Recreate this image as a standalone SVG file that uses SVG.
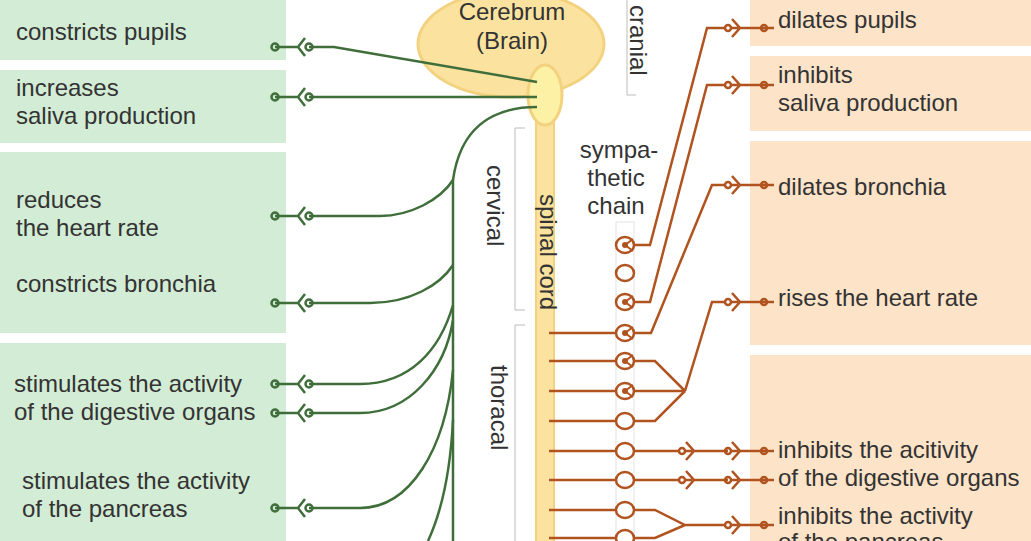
<svg xmlns="http://www.w3.org/2000/svg" width="1031" height="541" viewBox="0 0 1031 541">
<defs>
<style>
.t{font-family:"Liberation Sans",Arial,sans-serif;font-size:24px;fill:#333}
.g{fill:none;stroke:#3f6e3a;stroke-width:2.5}
.o{fill:none;stroke:#b0531f;stroke-width:2.5}
.br{fill:none;stroke:#bbb;stroke-width:1}
</style>
<g id="synL"><circle cx="-24" cy="0" r="3.5" class="g" stroke-width="2"/><path d="M-24 0H-2M6 -9L-1 0L6 9" class="g"/><circle cx="10" cy="0" r="3.5" class="g" stroke-width="2"/></g>
<g id="synA"><circle cx="0" cy="0" r="3" class="o" stroke-width="2"/><path d="M3 0H10M4 -9L12 0L4 9M12 0H46" class="o"/></g>
<g id="synR"><use href="#synA"/><circle cx="36" cy="0" r="3" class="o" stroke-width="2"/></g>
</defs>
<rect width="1031" height="541" fill="#fff"/>
<g id="left-boxes" fill="#d3ecd5">
<rect x="0" y="0" width="286" height="60"/><rect x="0" y="70" width="286" height="73"/>
<rect x="0" y="152" width="286" height="181"/><rect x="0" y="343" width="286" height="198"/>
</g>
<g id="right-boxes" fill="#fde3c8">
<rect x="750" y="0" width="281" height="46"/><rect x="750" y="56" width="281" height="75"/>
<rect x="750" y="141" width="281" height="204"/><rect x="750" y="355" width="281" height="186"/>
</g>
<g id="brain">
<ellipse cx="511" cy="44" rx="93" ry="53" fill="#fbe39f" stroke="#f3d27f" stroke-width="3"/>
<text class="t" x="512" y="20" text-anchor="middle" font-size="21">Cerebrum</text>
<text class="t" x="512" y="49" text-anchor="middle" font-size="21">(Brain)</text>
</g>
<g id="spinal-cord">
<rect x="536" y="105" width="18" height="440" fill="#fbe39f" stroke="#f3d27f" stroke-width="2"/>
<ellipse cx="545" cy="95" rx="17" ry="30" fill="#fdf1a6" stroke="#f3d27f" stroke-width="3"/>
<text class="t" font-size="16" transform="translate(540,194) rotate(90)">spinal cord</text>
</g>
<g id="labels">
<path class="br" d="M627 0V95H636M525 128H515V310H525M525 325H515V541"/>
<text class="t" transform="translate(630,5) rotate(90)">cranial</text>
<text class="t" transform="translate(487,165) rotate(90)">cervical</text>
<text class="t" transform="translate(491,365) rotate(90)">thoracal</text>
<text class="t" x="619" y="158" text-anchor="middle" font-size="22">sympa-</text>
<text class="t" x="616" y="186" text-anchor="middle" font-size="22">thetic</text>
<text class="t" x="616" y="214" text-anchor="middle" font-size="22">chain</text>
<rect x="616" y="222" width="18" height="330" fill="none" stroke="#e3e3e3"/>
</g>
<g id="left-texts">
<text class="t" x="16" y="40">constricts pupils</text>
<text class="t" x="16" y="96">increases</text><text class="t" x="16" y="124">saliva production</text>
<text class="t" x="16" y="208">reduces</text><text class="t" x="16" y="236">the heart rate</text>
<text class="t" x="16" y="292">constricts bronchia</text>
<text class="t" x="14" y="392">stimulates the activity</text><text class="t" x="14" y="420">of the digestive organs</text>
<text class="t" x="22" y="489">stimulates the activity</text><text class="t" x="22" y="517">of the pancreas</text>
</g>
<g id="right-texts">
<text class="t" x="778" y="28">dilates pupils</text>
<text class="t" x="778" y="83">inhibits</text><text class="t" x="778" y="111">saliva production</text>
<text class="t" x="778" y="195">dilates bronchia</text>
<text class="t" x="778" y="306">rises the heart rate</text>
<text class="t" x="778" y="458">inhibits the acitivity</text><text class="t" x="778" y="486">of the digestive organs</text>
<text class="t" x="778" y="524">inhibits the activity</text><text class="t" x="778" y="550">of the pancreas</text>
</g>
<g id="connectors">
<g id="parasympathetic">
<use href="#synL" x="299" y="47"/><use href="#synL" x="299" y="97"/>
<use href="#synL" x="299" y="216"/><use href="#synL" x="299" y="303"/>
<use href="#synL" x="299" y="384"/><use href="#synL" x="299" y="413"/><use href="#synL" x="299" y="508"/>
<path class="g" d="M309 47H334L537 82M309 97H537M537 107C490 107 460 130 453 180V541"/>
<path class="g" d="M453 180C440 200 410 216 380 216H309M453 265C440 285 410 303 370 303H309"/>
<path class="g" d="M453 305C440 350 410 384 360 384H309M453 320C445 370 410 413 360 413H309M453 370C445 450 410 508 360 508H309M453 420C450 480 440 515 428 541"/>
</g>
<g id="sympathetic">
<g fill="none" stroke="#b0531f" stroke-width="2.5">
<ellipse cx="625" cy="245" rx="9" ry="8"/><ellipse cx="625" cy="273" rx="9" ry="8"/><ellipse cx="625" cy="302" rx="9" ry="8"/>
<ellipse cx="625" cy="333" rx="9" ry="8"/><ellipse cx="625" cy="361" rx="9" ry="8"/><ellipse cx="625" cy="391" rx="9" ry="8"/>
<ellipse cx="625" cy="421" rx="9" ry="8"/><ellipse cx="625" cy="451" rx="9" ry="8"/><ellipse cx="625" cy="480" rx="9" ry="8"/>
<ellipse cx="625" cy="510" rx="9" ry="8"/><ellipse cx="625" cy="538" rx="9" ry="8"/>
<path d="M625 245L633 239M625 245L633 251M625 302L633 296M625 302L633 308M625 333L633 327M625 333L633 339M625 361L633 355M625 361L633 367M625 391L633 385M625 391L633 397" stroke-width="2"/>
</g>
<circle cx="625" cy="245" r="3" fill="#b0531f"/><circle cx="625" cy="302" r="3" fill="#b0531f"/>
<circle cx="625" cy="333" r="3" fill="#b0531f"/><circle cx="625" cy="361" r="3" fill="#b0531f"/><circle cx="625" cy="391" r="3" fill="#b0531f"/>
<path class="o" d="M549 333H616M549 361H616M549 391H616M549 421H616M549 451H616M549 480H616M549 510H616M549 538H616"/>
<path class="o" d="M634 245H650L707 28H725M634 302H650L707 85H725M634 333H651L712 185H725M634 361H655L685 391M634 391H685M634 421H655L685 391M685 391L712 302H725"/>
<path class="o" d="M634 451H679M634 480H679M634 510H655L685 525H725M634 538H655L685 525"/>
<use href="#synR" x="728" y="28"/><use href="#synR" x="728" y="85"/><use href="#synR" x="728" y="185"/><use href="#synR" x="728" y="302"/>
<use href="#synA" x="682" y="451"/><use href="#synA" x="682" y="480"/>
<use href="#synR" x="728" y="451"/><use href="#synR" x="728" y="480"/><use href="#synR" x="728" y="525"/>
</g>
</g>
</svg>
